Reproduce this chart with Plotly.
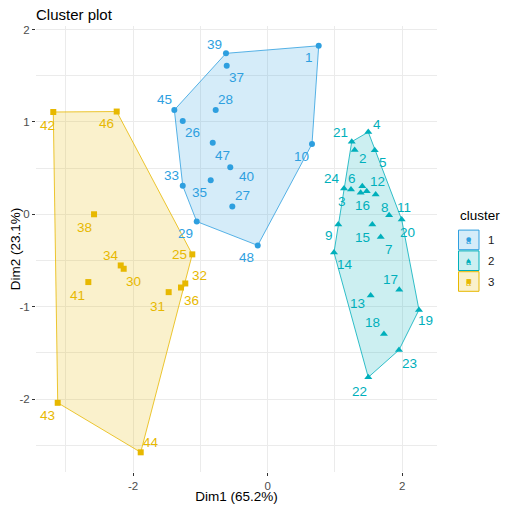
import plotly.graph_objects as go

# ---------------- data ----------------
c1_labels = ["1", "10", "26", "27", "28", "29", "33", "35", "37", "39", "40", "45", "47", "48"]
c1_dim1 = [0.76, 0.66, -1.262, -0.525, -0.772, -1.054, -1.262, -0.846, -0.608, -0.619, -0.555, -1.387, -0.816, -0.147]
c1_dim2 = [1.824, 0.76, 1.01, 0.084, 1.129, -0.079, 0.308, 0.369, 1.607, 1.742, 0.510, 1.129, 0.775, -0.337]

c2_labels = ["2", "3", "4", "5", "6", "7", "8", "9", "11", "12", "13", "14", "15", "16", "17", "18",
             "19", "20", "21", "22", "23", "24"]
c2_dim1 = [1.295, 1.240, 1.497, 1.593, 1.408, 1.682, 1.607, 1.051, 1.807, 1.474, 1.533, 0.987, 1.557, 1.384,
           1.958, 1.730, 2.251, 1.994, 1.251, 1.497, 1.954, 1.136]
c2_dim2 = [0.695, 0.268, 0.890, 0.692, 0.304, -0.245, 0.214, -0.112, -0.011, 0.250, -0.879, -0.413, -0.112,
           0.232, -0.818, -1.295, -1.035, -0.058, 0.786, -1.765, -1.469, 0.279]

c3_labels = ["25", "30", "31", "32", "34", "36", "38", "41", "42", "43", "44", "46"]
c3_dim1 = [-1.120, -2.140, -1.471, -1.224, -2.184, -1.288, -2.581, -2.666, -3.187, -3.121, -1.887, -2.244]
c3_dim2 = [-0.434, -0.590, -0.843, -0.749, -0.554, -0.793, 0.000, -0.734, 1.107, -2.041, -2.577, 1.112]

cluster_names = ["1", "2", "3"]
x_ticks = [-2, 0, 2]
y_ticks = [-2, -1, 0, 1, 2]

# ---------------- style ----------------
colors = ["#2E9FDF", "#00AFBB", "#E7B800"]
fills = ["rgba(46,159,223,0.2)", "rgba(0,175,187,0.2)", "rgba(231,184,0,0.2)"]
symbols = ["circle", "triangle-up", "square"]
msizes = [6, 7, 6]
key_glyph = ["●", "▲", "■"]
FONT = "Liberation Sans, Arial, sans-serif"

# label offsets in pixels (dx right, dy down) mimicking the repelled labels
label_offset = {
    "39": (-11, -9), "1": (-10, 12), "37": (10, 12), "28": (10, -10), "45": (-10, -10),
    "26": (10, 12), "47": (10, 13), "10": (-10, 12), "40": (16, 9), "35": (-11, 12),
    "33": (-11, -10), "27": (10, -11), "29": (-11, 12), "48": (-11, 12),
    "4": (9, -8), "21": (-11, -9), "2": (8, 8), "5": (8, 12), "24": (-12, -10), "3": (-9, 12),
    "6": (-10, -8), "16": (2, 13), "12": (11, -10), "8": (9, 13), "11": (15, -8), "20": (6, 13),
    "9": (-9, 11), "15": (-10, 13), "7": (8, 13), "14": (11, 12), "17": (-9, -10), "13": (-13, 8),
    "19": (7, 11), "18": (-11, -11), "23": (10, 14), "22": (-9, 14),
    "42": (-6, 13), "46": (-10, 12), "38": (-10, 13), "34": (-10, -10), "30": (10, 13),
    "41": (-11, 13), "25": (-13, 0), "32": (14, -8), "36": (11, 13), "31": (-11, 14),
    "43": (-10, 13), "44": (10, -10),
}

# the page body adds an 8px margin, so the figure is sized to fit the 509x512 window
OFF = 8
W, H = 509 - 2 * OFF, 512 - 2 * OFF
ML, MT = 36 - OFF, 26 - OFF
PLOT_RIGHT, PLOT_BOTTOM = 437 - OFF, 472 - OFF
MR, MB = W - PLOT_RIGHT, H - PLOT_BOTTOM
PW, PH = W - ML - MR, H - MT - MB


def pxp(px):
    """window pixel x -> paper coordinate"""
    return (px - OFF - ML) / PW


def pyp(py):
    """window pixel y -> paper coordinate"""
    return (H - MB - (py - OFF)) / PH


def convex_hull(xs, ys):
    pts = sorted(set(zip(xs, ys)))
    if len(pts) <= 2:
        return pts

    def cross(o, a, b):
        return (a[0] - o[0]) * (b[1] - o[1]) - (a[1] - o[1]) * (b[0] - o[0])

    lower, upper = [], []
    for p in pts:
        while len(lower) >= 2 and cross(lower[-2], lower[-1], p) <= 0:
            lower.pop()
        lower.append(p)
    for p in reversed(pts):
        while len(upper) >= 2 and cross(upper[-2], upper[-1], p) <= 0:
            upper.pop()
        upper.append(p)
    return lower[:-1] + upper[:-1]


clusters = [
    (c1_labels, c1_dim1, c1_dim2),
    (c2_labels, c2_dim1, c2_dim2),
    (c3_labels, c3_dim1, c3_dim2),
]

fig = go.Figure()

# hull polygons
for i, (lab, xs, ys) in enumerate(clusters):
    hull = convex_hull(xs, ys)
    hx = [p[0] for p in hull] + [hull[0][0]]
    hy = [p[1] for p in hull] + [hull[0][1]]
    fig.add_trace(go.Scatter(x=hx, y=hy, mode="lines", fill="toself", fillcolor=fills[i],
                             line=dict(color=colors[i], width=0.8), hoverinfo="skip",
                             showlegend=False))

# points
for i, (lab, xs, ys) in enumerate(clusters):
    fig.add_trace(go.Scatter(x=xs, y=ys, mode="markers", text=lab,
                             marker=dict(symbol=symbols[i], size=msizes[i], color=colors[i],
                                         line=dict(width=0)),
                             name=cluster_names[i], showlegend=False))

annotations = []
# point labels
for i, (lab, xs, ys) in enumerate(clusters):
    for t, x, y in zip(lab, xs, ys):
        dx, dy = label_offset.get(t, (0, -10))
        annotations.append(dict(x=x, y=y, xref="x", yref="y", text=t, showarrow=False,
                                xshift=dx, yshift=-dy, xanchor="center", yanchor="middle",
                                font=dict(family=FONT, size=13.5, color=colors[i])))

# manual ggplot-style legend
shapes = []
annotations.append(dict(x=pxp(458), y=pyp(215), xref="paper", yref="paper", text="cluster",
                        showarrow=False, xanchor="left", yanchor="middle",
                        font=dict(family=FONT, size=13.5, color="#000000")))
for i, name in enumerate(cluster_names):
    top = 229.5 + i * 20.8
    shapes.append(dict(type="rect", xref="paper", yref="paper",
                       x0=pxp(458.5), x1=pxp(479), y0=pyp(top + 0.6), y1=pyp(top + 20.2),
                       line=dict(color=colors[i], width=1), fillcolor=fills[i]))
    cx, cy = 468.7, top + 10.4
    annotations.append(dict(x=pxp(cx), y=pyp(cy - 1.5), xref="paper", yref="paper",
                            text=key_glyph[i], showarrow=False, xanchor="center", yanchor="middle",
                            font=dict(family="DejaVu Sans", size=6, color=colors[i])))
    annotations.append(dict(x=pxp(cx), y=pyp(cy + 1.5), xref="paper", yref="paper",
                            text="a", showarrow=False, xanchor="center", yanchor="middle",
                            font=dict(family=FONT, size=9, color=colors[i])))
    annotations.append(dict(x=pxp(485.5), y=pyp(cy), xref="paper", yref="paper",
                            text=name, showarrow=False, xanchor="left", yanchor="middle",
                            font=dict(family=FONT, size=11.5, color="#1A1A1A")))

axis_common = dict(
    showgrid=True, gridcolor="#EBEBEB", gridwidth=1.3, zeroline=False, showline=False,
    ticks="outside", ticklen=3, tickwidth=1, tickcolor="#333333",
    tickfont=dict(family=FONT, size=11.5, color="#4D4D4D"),
    automargin=False,
)

fig.update_layout(
    width=W, height=H,
    margin=dict(l=ML, r=MR, t=MT, b=MB, pad=0),
    paper_bgcolor="white", plot_bgcolor="white",
    font=dict(family=FONT),
    title=dict(text="Cluster plot", x=ML / W, xanchor="left", y=1 - (14.5 - OFF) / H, yanchor="middle",
               font=dict(family=FONT, size=15, color="#000000")),
    xaxis=dict(range=[-3.444, 2.519], tickvals=x_ticks, ticktext=[str(v) for v in x_ticks],
               title=dict(text="Dim1 (65.2%)", standoff=3,
                          font=dict(family=FONT, size=13.5, color="#000000")),
               minor=dict(dtick=1, tick0=1, showgrid=True, gridcolor="#EBEBEB", gridwidth=0.65,
                          ticks=""),
               **axis_common),
    yaxis=dict(range=[-2.790, 2.038], tickvals=y_ticks, ticktext=[str(v) for v in y_ticks],
               title=dict(text="Dim2 (23.1%)", standoff=2,
                          font=dict(family=FONT, size=13.5, color="#000000")),
               minor=dict(dtick=0.5, tick0=0.5, showgrid=True, gridcolor="#EBEBEB", gridwidth=0.65,
                          ticks=""),
               **axis_common),
    shapes=shapes,
    annotations=annotations,
    showlegend=False,
)

fig.write_html("out.html")
